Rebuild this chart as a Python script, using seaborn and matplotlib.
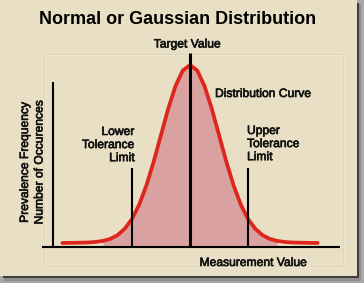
import matplotlib
matplotlib.use("Agg")
import matplotlib.pyplot as plt
from matplotlib.patches import Rectangle
import matplotlib.patheffects as pe
import seaborn as sns
import numpy as np

sns.set_theme(style="white")
plt.rcParams['font.family'] = ['Liberation Sans', 'DejaVu Sans']

# ---- data (x in std-dev units, y relative height) ----
curve_x = [-4.4, -4.0, -3.5, -3.25, -3.0, -2.75, -2.5, -2.25, -2.0, -1.75, -1.5,
           -1.25, -1.0, -0.75, -0.5, -0.25, 0.0, 0.25, 0.5, 0.75, 1.0, 1.25, 1.5,
           1.75, 2.0, 2.25, 2.5, 2.75, 3.0, 3.25, 3.5, 4.0, 4.4]
curve_y = [0.0, 0.001, 0.003, 0.006, 0.012, 0.023, 0.044, 0.08, 0.135, 0.216, 0.325,
           0.458, 0.607, 0.755, 0.882, 0.969, 1.0, 0.969, 0.882, 0.755, 0.607, 0.458,
           0.325, 0.216, 0.135, 0.08, 0.044, 0.023, 0.012, 0.006, 0.003, 0.001, 0.0]
target_value = 0.0
tolerance_limits = [-2.0, 2.0]

title = "Normal or Gaussian Distribution"
target_label = "Target Value"
curve_label = "Distribution Curve"
lower_label = "Lower\nTolerance\nLimit"
upper_label = "Upper\nTolerance\nLimit"
x_label = "Measurement Value"
y_label_1 = "Prevalence Frequency"
y_label_2 = "Number of Occurences"

BG = "#E8DFC4"
RED = "#DF261D"
PINK = "#D9A2A0"

W, H = 364, 283
fig = plt.figure(figsize=(W / 100, H / 100), dpi=100)
fig.patch.set_facecolor("#A8A8A8")

# background card with drop shadow (pixel coords, y down)
bg = fig.add_axes([0, 0, 1, 1])
bg.set_xlim(0, W)
bg.set_ylim(H, 0)
bg.axis("off")
bg.add_patch(Rectangle((4, 4), 357, 277, color="#8E8E8E", lw=0))
bg.add_patch(Rectangle((3, 3), 356, 275, color="#3E3E3E", lw=0))
bg.add_patch(Rectangle((0, 0), 357, 276, color=BG, lw=0))
bg.add_patch(Rectangle((43.5, 54), 299.5, 212, fill=False, ec="#DDD4BA", lw=0.6))
bg.add_patch(Rectangle((44.5, 55), 299.5, 212, fill=False, ec="#EEE7D3", lw=0.5))

# main axes: data coordinates mapped so that x=0 at px 190, 1 unit = 29 px;
# y=0 at py 243, 1 unit = 178 px
X0, SX, Y0, SY = 190.0, 29.0, 243.0, 178.0
def dx(px):
    return (px - X0) / SX
def dy(py):
    return (Y0 - py) / SY

ax = fig.add_axes([0, 0, 1, 1], zorder=2)
ax.patch.set_alpha(0)
ax.set_xlim(dx(0), dx(W))
ax.set_ylim(dy(H), dy(0))
ax.axis("off")

cx = np.array(curve_x)
cy = np.array(curve_y)
base = dy(247)
ax.fill_between(cx, cy, base, where=cy >= 0.01, color=PINK, lw=0, zorder=1)
sns.lineplot(x=cx, y=cy, ax=ax, color=RED, lw=2.7, zorder=3, sort=False)

# axes lines
ax.plot([dx(42), dx(340)], [base, base], color="black", lw=1.5, zorder=4,
        solid_capstyle="butt")
ax.plot([dx(53), dx(53)], [dy(82), base], color="black", lw=1.5, zorder=4,
        solid_capstyle="butt")
# target and tolerance lines
ax.plot([target_value, target_value], [dy(53), base], color="black", lw=2.2,
        zorder=4, solid_capstyle="butt")
for t in tolerance_limits:
    ax.plot([t, t], [dy(168), base], color="black", lw=1.5, zorder=4,
            solid_capstyle="butt")

fs = 8.7
heavy = [pe.withStroke(linewidth=0.45, foreground="#111111")]
kw = dict(fontsize=fs, color="#111111", path_effects=heavy)
ax.text(dx(177.5), dy(24), title, ha="center", va="baseline", fontsize=13,
        fontweight="bold", color="black")
ax.text(dx(187.5), dy(47.5), target_label, ha="center", va="baseline", **kw)
ax.text(dx(215), dy(97), curve_label, ha="left", va="baseline", **kw)
ax.text(dx(134.5), dy(126), lower_label, ha="right", va="top",
        linespacing=1.12, **kw)
ax.text(dx(247), dy(125), upper_label, ha="left", va="top",
        linespacing=1.12, **kw)
ax.text(dx(253.5), dy(266), x_label, ha="center", va="baseline", **kw)
ax.text(dx(25), dy(162), y_label_1, ha="center", va="center", rotation=90, **kw)
ax.text(dx(39.5), dy(162), y_label_2, ha="center", va="center", rotation=90, **kw)

fig.savefig("out.png", dpi=100, facecolor=fig.get_facecolor())
